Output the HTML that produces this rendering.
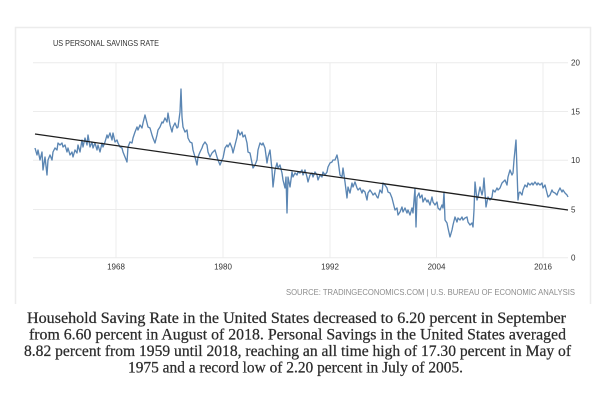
<!DOCTYPE html>
<html>
<head>
<meta charset="utf-8">
<style>
html,body{margin:0;padding:0;background:#fff;}
svg{display:block;}
</style>
</head>
<body>
<svg width="600" height="400" viewBox="0 0 600 400" xmlns="http://www.w3.org/2000/svg">
<rect x="0" y="0" width="600" height="400" fill="#ffffff"/>
<!-- frame -->
<path d="M15.5,304 L15.5,27.5 L590.5,27.5 L590.5,304" fill="none" stroke="#ececec" stroke-width="1.5"/>
<!-- title -->
<text x="53" y="46" font-family="Liberation Sans, sans-serif" font-size="8.5" fill="#333" textLength="106" lengthAdjust="spacingAndGlyphs">US PERSONAL SAVINGS RATE</text>
<!-- gridlines -->
<g stroke="#ececec" stroke-width="1">
<line x1="33" y1="62.7" x2="568" y2="62.7"/>
<line x1="33" y1="111.5" x2="568" y2="111.5"/>
<line x1="33" y1="160.3" x2="568" y2="160.3"/>
<line x1="33" y1="209.5" x2="568" y2="209.5"/>
<line x1="33" y1="257.7" x2="568" y2="257.7"/>
<line x1="116" y1="62.7" x2="116" y2="257.7"/>
<line x1="223" y1="62.7" x2="223" y2="257.7"/>
<line x1="330" y1="62.7" x2="330" y2="257.7"/>
<line x1="436.5" y1="62.7" x2="436.5" y2="257.7"/>
<line x1="543" y1="62.7" x2="543" y2="257.7"/>
</g>
<!-- y labels -->
<g font-family="Liberation Sans, sans-serif" font-size="8" fill="#333">
<text x="571" y="65.5">20</text>
<text x="571" y="114.3">15</text>
<text x="571" y="163.1">10</text>
<text x="571" y="212.3">5</text>
<text x="571" y="260.5">0</text>
</g>
<!-- x labels -->
<g font-family="Liberation Sans, sans-serif" font-size="8" fill="#333" text-anchor="middle">
<text x="116" y="269.5">1968</text>
<text x="223" y="269.5">1980</text>
<text x="330" y="269.5">1992</text>
<text x="436.5" y="269.5">2004</text>
<text x="543" y="269.5">2016</text>
</g>
<!-- series -->
<polyline fill="none" stroke="#5b86b3" stroke-width="1.35" stroke-linejoin="round" points="35,148 37,155 38,150 40,160 42,152 43,170 45,157 47,175 48,160 50,155 52,160 53,152 55,148 57,150 58,143 60,145 62,143 63,147 65,145 67,152 68,148 70,155 72,152 73,157 75,150 77,153 78,145 80,152 82,140 83,147 85,138 87,145 88,135 90,147 92,142 93,148 95,143 97,150 98,145 100,152 102,143 103,147 105,142 107,135 108,138 110,133 112,140 113,133 115,142 117,140 118,143 120,147 122,148 123,152 125,157 127,162 128,147 130,142 132,143 133,138 135,132 137,127 138,130 140,125 142,128 143,123 145,115 147,123 148,127 150,128 152,135 153,138 155,143 157,135 158,130 160,127 162,122 163,123 165,118 167,122 168,113 170,125 172,132 173,127 175,123 177,128 178,127 180,112 181,89 182,117 183,127 185,132 187,130 188,138 190,142 192,143 193,150 195,157 197,165 198,157 200,152 202,148 203,145 205,142 207,145 208,152 210,157 212,153 213,152 215,150 217,157 218,160 220,165 222,160 223,158 225,148 227,145 228,147 230,143 232,148 233,153 235,145 237,137 238,130 240,135 242,132 243,137 245,135 247,143 248,152 250,153 252,163 253,168 255,165 257,160 258,150 260,143 262,145 263,143 265,148 267,163 268,157 270,150 272,170 273,187 275,170 277,163 278,168 280,165 282,173 283,180 285,188 286,177 287,213 288,177 290,187 292,172 293,177 295,173 297,175 298,172 300,173 302,170 303,175 305,170 307,177 308,182 310,175 312,173 313,177 315,172 317,175 318,180 320,175 322,177 323,172 325,175 327,172 328,167 330,163 332,162 333,160 335,160 337,155 338,160 340,175 342,177 343,168 345,182 347,198 348,187 350,193 352,183 353,187 355,182 357,188 358,190 360,188 362,193 363,190 365,192 367,200 368,193 370,190 372,193 373,195 375,193 377,197 378,198 380,190 382,193 383,183 385,185 387,188 388,192 390,193 392,198 393,202 395,210 397,208 398,215 400,212 402,207 403,212 405,208 407,213 408,210 410,215 412,208 413,213 415,188 416,227 417,197 419,193 420,198 422,195 423,202 425,198 427,202 428,200 430,205 432,197 433,202 435,205 437,202 438,208 440,210 442,205 443,208 444,192 445,220 447,223 448,228 450,237 452,230 453,225 455,217 457,222 458,218 460,220 462,217 463,220 465,218 467,217 468,222 470,225 472,223 473,227 474,210 475,182 477,200 478,197 480,187 482,195 483,190 484,178 486,207 487,202 488,197 490,200 492,197 493,190 495,192 497,188 498,190 500,188 502,183 503,182 505,180 507,185 508,177 510,170 512,175 513,173 514,160 516,140 517,170 518,200 519,193 520,192 522,195 523,190 525,185 527,187 528,183 530,185 532,183 533,185 535,182 537,185 538,183 540,185 542,183 543,188 545,185 547,193 548,197 550,195 552,190 553,192 555,193 557,195 558,192 560,188 562,192 563,190 565,193 567,195 568,197"/>
<!-- trend line -->
<line x1="35" y1="134" x2="568" y2="210" stroke="#1e1e1e" stroke-width="1.3"/>
<!-- source -->
<text x="286" y="295" font-family="Liberation Sans, sans-serif" font-size="8.5" fill="#8c8c8c" textLength="289" lengthAdjust="spacingAndGlyphs">SOURCE: TRADINGECONOMICS.COM | U.S. BUREAU OF ECONOMIC ANALYSIS</text>
<!-- paragraph -->
<g font-family="Liberation Serif, serif" font-size="16" fill="#2b2b2b" stroke="#2b2b2b" stroke-width="0.25">
<text x="27" y="323" textLength="539" lengthAdjust="spacingAndGlyphs">Household Saving Rate in the United States decreased to 6.20 percent in September</text>
<text x="29" y="339.5" textLength="537" lengthAdjust="spacingAndGlyphs">from 6.60 percent in August of 2018. Personal Savings in the United States averaged</text>
<text x="24" y="356" textLength="547" lengthAdjust="spacingAndGlyphs">8.82 percent from 1959 until 2018, reaching an all time high of 17.30 percent in May of</text>
<text x="128" y="372.5" textLength="335" lengthAdjust="spacingAndGlyphs">1975 and a record low of 2.20 percent in July of 2005.</text>
</g>
</svg>
</body>
</html>
